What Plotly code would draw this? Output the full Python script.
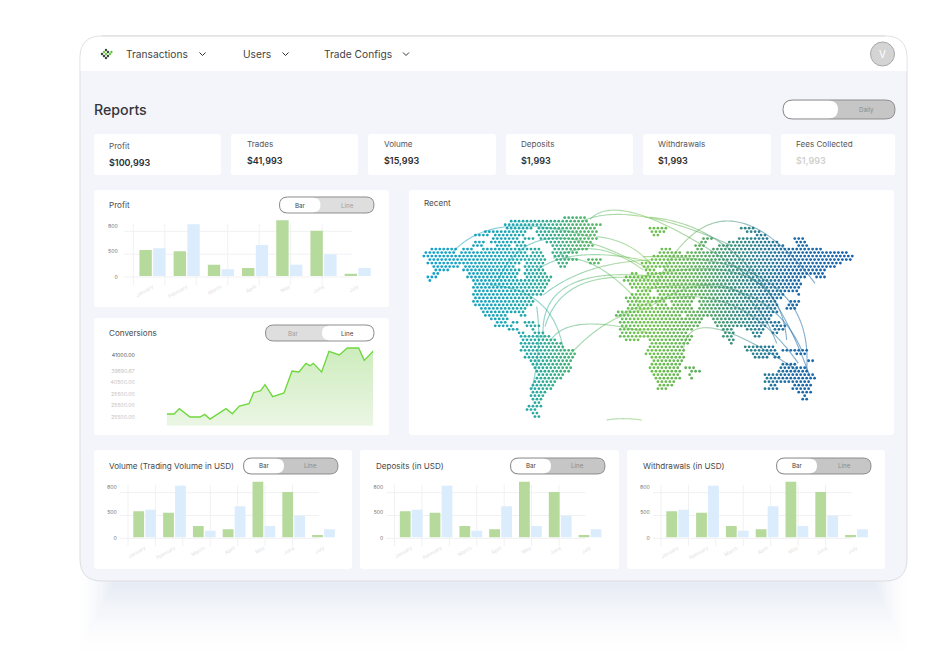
import plotly.graph_objects as go

W, H = 949, 667

# ---------- data ----------
MONTHS = ["January", "February", "March", "April", "May", "June", "July"]
BARS_GREEN = [569, 540, 248, 175, 1219, 993, 51]
BARS_BLUE = [606, 1131, 146, 679, 248, 474, 175]
BAR_TICK_VALUES = [-22, 548, 1095]
BAR_TICK_TEXT = ["0", "500", "800"]
BAR_GRID_Y = [-22, 478, 978]
BAR_GRID_X = [-0.56, 0.36, 1.28, 2.2, 3.12, 4.04, 4.96]

CONV_X = [230, 252, 268, 300, 330, 344, 360, 408, 427, 448, 477, 491, 512, 525, 548, 582, 606, 627, 648, 660, 670, 695, 717, 748, 772, 806, 823, 850]
CONV_Y = [26254, 26254, 27595, 25500, 25500, 26170, 24997, 27595, 26338, 28265, 28852, 31617, 32120, 33629, 30612, 31534, 37064, 36813, 38992, 38405, 38992, 36813, 42009, 41087, 42847, 42847, 39746, 42092]
CONV_TICK_VALUES = [25500, 28433, 31282, 34215, 37064, 41003]
CONV_TICK_TEXT = ["25500.00", "25500.00", "25500.00", "40500.00", "39890.67", "41000.00"]

KPI_NAMES = ["Profit", "Trades", "Volume", "Deposits", "Withdrawals", "Fees Collected"]
KPI_VALUES = ["$100,993", "$41,993", "$15,993", "$1,993", "$1,993", "$1,993"]
NAV_ITEMS = ["Transactions", "Users", "Trade Configs"]

# land dots on the map: one row per dot line, spans of land from west to east
MAP_ROWS = [
    [(465, 520)],
    [(305, 535)],
    [(290, 570)],
    [(295, 365), (385, 550), (715, 770), (995, 1025)],
    [(225, 245), (265, 345), (375, 555), (725, 760), (1015, 1045)],
    [(195, 235), (260, 335), (385, 560), (733, 750), (1040, 1065)],
    [(250, 320), (345, 365), (395, 555), (875, 905), (990, 1070), (1155, 1175)],
    [(190, 220), (245, 345), (415, 545), (870, 890), (960, 1105), (1160, 1180)],
    [(195, 215), (255, 300), (315, 345), (425, 545), (860, 885), (925, 1125), (1170, 1190)],
    [(65, 135), (165, 185), (225, 390), (430, 525), (755, 785), (860, 870), (915, 1170), (1180, 1230)],
    [(45, 135), (150, 350), (365, 395), (430, 505), (745, 805), (835, 1310)],
    [(45, 405), (435, 475), (725, 825), (835, 1325)],
    [(55, 330), (345, 405), (435, 500), (535, 570), (720, 1320)],
    [(55, 145), (155, 325), (345, 395), (440, 475), (545, 570), (700, 1290)],
    [(65, 140), (160, 310), (340, 395), (450, 470), (700, 745), (760, 1275)],
    [(75, 115), (160, 330), (345, 400), (705, 735), (765, 1245)],
    [(65, 80), (175, 320), (345, 410), (660, 680), (710, 745), (755, 1210), (1220, 1240)],
    [(55, 75), (175, 320), (345, 425), (650, 1180), (1215, 1240)],
    [(55, 55), (185, 380), (390, 420), (645, 1170), (1220, 1220)],
    [(190, 410), (660, 1175)],
    [(190, 400), (665, 690), (700, 1170)],
    [(190, 400), (685, 715), (745, 1160)],
    [(190, 395), (660, 675), (690, 715), (745, 1120), (1160, 1170)],
    [(190, 360), (650, 680), (695, 715), (730, 850), (870, 1115)],
    [(195, 375), (655, 680), (695, 715), (730, 765), (780, 850), (870, 1100), (1140, 1170)],
    [(200, 360), (665, 675), (685, 715), (740, 765), (785, 845), (870, 1100), (1135, 1165)],
    [(215, 350), (650, 850), (870, 1095), (1130, 1150)],
    [(225, 340), (620, 875), (885, 1100)],
    [(230, 290), (335, 350), (615, 815), (830, 885), (895, 1080)],
    [(240, 290), (630, 880), (905, 1080)],
    [(255, 285), (305, 325), (345, 375), (630, 870), (920, 1105)],
    [(255, 310), (345, 385), (630, 860), (925, 1065), (1090, 1120)],
    [(295, 320), (365, 375), (630, 840), (935, 970), (1005, 1060), (1090, 1115)],
    [(325, 335), (375, 400), (630, 830), (940, 965), (1030, 1055), (1090, 1105)],
    [(330, 420), (635, 845), (945, 965), (1040, 1050)],
    [(340, 430), (645, 680), (715, 845), (955, 970)],
    [(335, 450), (720, 830), (960, 960)],
    [(335, 465), (720, 820), (1010, 1090)],
    [(335, 490), (710, 820), (1015, 1100), (1120, 1190)],
    [(345, 495), (710, 820), (1025, 1105), (1160, 1190)],
    [(345, 490), (720, 825), (1040, 1075), (1090, 1105)],
    [(360, 480), (725, 820), (1190, 1205)],
    [(370, 480), (720, 805), (850, 850), (1115, 1150)],
    [(370, 480), (715, 805), (830, 850), (1110, 1180)],
    [(375, 480), (725, 805), (840, 865), (1100, 1190)],
    [(380, 465), (730, 800), (835, 845), (1070, 1210)],
    [(375, 450), (740, 805), (840, 840), (1065, 1210)],
    [(370, 440), (745, 790), (1070, 1200)],
    [(365, 430), (750, 790), (1080, 1100), (1150, 1205)],
    [(365, 420), (740, 770), (1070, 1100), (1150, 1200)],
    [(365, 400), (1160, 1200)],
    [(365, 395), (1185, 1190)],
    [(365, 390), (1180, 1195)],
    [(370, 385)],
    [(360, 390)],
    [(355, 380)],
    [(365, 385)],
    [(370, 385)],
]

# flight arcs: start, a point half way along the curve, end
ARC_FROM = [(130, 185), (520, 92), (720, 82), (540, 88), (735, 290), (720, 350), (820, 485), (700, 200),
            (420, 455), (485, 488), (400, 450), (405, 410), (400, 315), (380, 240), (240, 285), (380, 350),
            (265, 270), (560, 140), (430, 205), (460, 205), (590, 690), (620, 380), (700, 300), (700, 260)]
ARC_VIA = [(290, 110), (700, 80), (1000, 215), (720, 85), (950, 93), (950, 290), (910, 415), (1080, 280),
           (520, 403), (600, 395), (470, 290), (510, 285), (540, 240), (520, 195), (390, 340), (385, 470),
           (430, 145), (650, 165), (560, 178), (570, 235), (640, 686), (920, 330), (1000, 310), (1010, 260)]
ARC_TO = [(540, 140), (960, 165), (1200, 560), (1060, 290), (1215, 280), (1100, 460), (1160, 540), (1190, 540),
          (720, 430), (720, 355), (720, 258), (720, 268), (720, 210), (720, 215), (460, 480), (365, 600),
          (720, 240), (720, 220), (700, 240), (690, 340), (695, 690), (1165, 520), (1175, 480), (1130, 450)]

# ---------- pixel helpers ----------
def px(x):
    return x / W

def py(y):
    return 1 - y / H

shapes, notes = [], []

def rr_path(x0, y0, x1, y1, r):
    a = [(x0 + r, y0), (x1 - r, y0), (x1, y0), (x1, y0 + r), (x1, y1 - r), (x1, y1), (x1 - r, y1),
         (x0 + r, y1), (x0, y1), (x0, y1 - r), (x0, y0 + r), (x0, y0), (x0 + r, y0)]
    f = lambda p: f"{px(p[0]):.5f},{py(p[1]):.5f}"
    return (f"M{f(a[0])} L{f(a[1])} Q{f(a[2])} {f(a[3])} L{f(a[4])} Q{f(a[5])} {f(a[6])} "
            f"L{f(a[7])} Q{f(a[8])} {f(a[9])} L{f(a[10])} Q{f(a[11])} {f(a[12])} Z")

def box(x0, y0, x1, y1, r, fill, line=None, lw=1):
    shapes.append(dict(type="path", path=rr_path(x0, y0, x1, y1, r), xref="paper", yref="paper",
                       fillcolor=fill, line=dict(color=line or "rgba(0,0,0,0)", width=lw if line else 0),
                       layer="below"))

def text(x, y, s, size=8.1, color="#4a4a4a", anchor="left", weight=400):
    if anchor == "left":
        x -= 1
    notes.append(dict(x=px(x), y=py(y), xref="paper", yref="paper", text=s, showarrow=False,
                      xanchor=anchor, yanchor="middle", borderpad=0,
                      font=dict(family="Inter", size=size, color=color, weight=weight)))

def hline_path(points, color, width):
    d = "M" + " L".join(f"{px(a):.5f},{py(b):.5f}" for a, b in points)
    shapes.append(dict(type="path", path=d, xref="paper", yref="paper",
                       line=dict(color=color, width=width), layer="below"))

# ---------- page frame ----------
LAYERS = 24
for i in range(LAYERS):
    inset, depth = i * 1.4, 70 - i * 2.8
    t = ((i + 1) / LAYERS) ** 1.6
    col = "rgb(%d,%d,%d)" % (255 - 23 * t, 255 - 19 * t, 255 - 10 * t)
    shapes.append(dict(type="rect", xref="paper", yref="paper", layer="below",
                       x0=px(80 + inset), x1=px(907 - inset), y0=py(575), y1=py(581 + depth),
                       fillcolor=col, line=dict(width=0)))
box(80, 36, 907, 581, 22, "#f4f5fa", "#dcdde0", 1)
# white top bar with rounded upper corners
f = lambda a, b: f"{px(a):.5f},{py(b):.5f}"
shapes.append(dict(type="path", xref="paper", yref="paper", layer="below", fillcolor="#ffffff",
                   line=dict(width=0),
                   path=f"M{f(80.5, 71)} L{f(80.5, 58)} Q{f(80.5, 36.5)} {f(102, 36.5)} L{f(885, 36.5)} "
                        f"Q{f(906.5, 36.5)} {f(906.5, 58)} L{f(906.5, 71)} Z"))
hline_path([(102, 36), (885, 36)], "#dcdde0", 1)

# logo
LOGO = [(-4, 0, "#1c2a1c"), (0, -4, "#1c2a1c"), (0, 4, "#1c2a1c"), (4, 0, "#53c22b"), (-2, -2, "#53c22b"),
        (2, -2, "#1c2a1c"), (-2, 2, "#1c2a1c"), (2, 2, "#1c2a1c"), (0, 0, "#53c22b"), (5.5, -2, "#53c22b")]
for dx, dy, c in LOGO:
    cx, cy = 106 + dx, 54 + dy
    d = f"M{f(cx, cy - 1.4)} L{f(cx + 1.4, cy)} L{f(cx, cy + 1.4)} L{f(cx - 1.4, cy)} Z"
    shapes.append(dict(type="path", path=d, xref="paper", yref="paper", fillcolor=c, line=dict(width=0)))

for name, tx, cx in zip(NAV_ITEMS, [126, 243, 323.5], [202.5, 285.5, 406]):
    text(tx, 54, name, 10.2, "#3f3f46")
    hline_path([(cx - 3, 52.5), (cx, 55.5), (cx + 3, 52.5)], "#333333", 1)

shapes.append(dict(type="circle", xref="paper", yref="paper", x0=px(870.5), x1=px(894.5), y0=py(42), y1=py(66),
                   fillcolor="#d4d4d4", line=dict(color="#a8a8a8", width=1)))
text(882.5, 54, "V", 10, "#ffffff", "center")

text(94, 110, "Reports", 14.2, "#33353a", weight=500)

def toggle(x0, y0, x1, y1, split, white_left, bg, labels):
    box(x0, y0, x1, y1, (y1 - y0) / 2, bg, "#8c8c8c", 1)
    if white_left:
        box(x0 + 0.7, y0 + 0.7, split, y1 - 0.7, (y1 - y0) / 2 - 0.7, "#ffffff")
    else:
        box(split, y0 + 0.7, x1 - 0.7, y1 - 0.7, (y1 - y0) / 2 - 0.7, "#ffffff")
    for lx, s, c in labels:
        text(lx, (y0 + y1) / 2, s, 6.2, c, "center")

toggle(783, 100, 895, 119, 838, True, "#c6c6c6", [(866, "Daily", "#8b8b8b")])

# KPI cards
KPI_BOX = [(94, 221), (231, 358), (368, 496), (506, 633), (643, 771), (781, 895)]
KPI_TX = [109, 246.5, 384, 521, 658, 796]
for i, (x0, x1) in enumerate(KPI_BOX):
    box(x0, 134, x1, 175, 2.5, "#ffffff")
    dy = 2 if i == 0 else 0
    text(KPI_TX[i], 144 + dy, KPI_NAMES[i], 8.1, "#55565b")
    text(KPI_TX[i], 160 + dy, KPI_VALUES[i], 9, "#d0d0d0" if i == 5 else "#2c2d31", weight=600)

# panels
for b in [(94, 190, 389, 307), (94, 318, 389, 435), (409, 190, 894, 435),
          (94, 450, 352, 569), (360, 450, 619, 569), (627, 450, 885, 569)]:
    box(*b, 3, "#ffffff")

text(109, 205, "Profit")
text(109, 333, "Conversions")
text(424, 203, "Recent")
text(109, 466, "Volume (Trading Volume in USD)")
text(376, 466, "Deposits (in USD)")
text(643, 466, "Withdrawals (in USD)")

toggle(279.5, 197, 374, 213, 320.5, True, "#dedede", [(300, "Bar", "#444444"), (347, "Line", "#a0a0a0")])
toggle(265.5, 325, 374, 341, 322, False, "#dedede", [(293.5, "Bar", "#a0a0a0"), (347.5, "Line", "#444444")])
toggle(243.5, 458, 338, 474, 284, True, "#c6c6c6", [(264, "Bar", "#444444"), (310, "Line", "#8b8b8b")])
toggle(510.5, 458, 605, 474, 551, True, "#c6c6c6", [(531, "Bar", "#444444"), (577, "Line", "#8b8b8b")])
toggle(776.5, 458, 871, 474, 817, True, "#c6c6c6", [(797, "Bar", "#444444"), (844, "Line", "#8b8b8b")])

fig = go.Figure()
layout = {}
UNIT = 22.83 / 500

def bar_chart(n, first_centre, step, zero_y, standoff):
    xn, yn = ("x", "y") if n == 1 else (f"x{n}", f"y{n}")
    xa, ya = ("xaxis", "yaxis") if n == 1 else (f"xaxis{n}", f"yaxis{n}")
    lo, hi, ylo, yhi = -0.9, 6.6, -197, 1260
    layout[xa] = dict(domain=[px(first_centre + lo * step), px(first_centre + hi * step)], anchor=yn, type="category",
                      range=[lo, hi], tickangle=-30, ticks="", showgrid=False, zeroline=False, showline=False,
                      tickfont=dict(family="Inter", size=5, color="#e2e2e2"), ticklabelstandoff=-3,
                      tickmode="array", tickvals=MONTHS, ticktext=MONTHS)
    layout[ya] = dict(domain=[py(zero_y - ylo * UNIT), py(zero_y - yhi * UNIT)], anchor=xn, range=[ylo, yhi],
                      tickmode="array", tickvals=BAR_TICK_VALUES, ticktext=BAR_TICK_TEXT, showgrid=False,
                      zeroline=False, showline=False, ticks="", ticklabelstandoff=standoff,
                      tickfont=dict(family="Inter", size=5.2, color="#777777"))
    for v in BAR_GRID_Y:
        shapes.append(dict(type="line", xref=xn, yref=yn, x0=-0.83, x1=5.85, y0=v, y1=v, layer="below",
                           line=dict(color="#f1f1f3", width=1)))
    for v in BAR_GRID_X:
        shapes.append(dict(type="line", xref=xn, yref=yn, x0=v, x1=v, y0=ylo, y1=1150, layer="below",
                           line=dict(color="#f1f1f3", width=1)))
    for vals, c in ((BARS_GREEN, "#b6d99c"), (BARS_BLUE, "#dbecfd")):
        fig.add_trace(go.Bar(x=MONTHS, y=vals, xaxis=xn, yaxis=yn, marker=dict(color=c, line=dict(width=0)),
                             showlegend=False, hoverinfo="skip"))

bar_chart(1, 152.5, 34.2, 276, 3)
bar_chart(3, 144.7, 29.8, 537.3, 0)
bar_chart(4, 144.7 + 266.5, 29.8, 537.3, 0)
bar_chart(5, 144.7 + 533, 29.8, 537.3, 0)

# conversions area
layout["xaxis2"] = dict(domain=[px(166.7), px(373.3)], anchor="y2", range=[230, 850], showgrid=False, zeroline=False,
                        showline=False, showticklabels=False, ticks="")
layout["yaxis2"] = dict(domain=[py(425.7), py(346.3)], anchor="x2", range=[23321, 43282], showgrid=False, zeroline=False,
                        showline=False, ticks="", tickmode="array", tickvals=CONV_TICK_VALUES,
                        ticktext=[f'<span style="color:{"#555555" if i == 5 else "#c4c4c4"}">{t}</span>'
                                  for i, t in enumerate(CONV_TICK_TEXT)],
                        ticklabelstandoff=31, tickfont=dict(family="Inter", size=5.2, color="#c4c4c4"))
fig.add_trace(go.Scatter(x=CONV_X, y=CONV_Y, xaxis="x2", yaxis="y2", mode="lines", fill="tozeroy",
                         line=dict(color="#6fd83e", width=1.4), showlegend=False, hoverinfo="skip",
                         fillgradient=dict(type="vertical", start=43000, stop=23321,
                                           colorscale=[[0, "#cdecbd"], [1, "#ebf6e4"]])))

# map (units are 1/3 pixel, origin at the panel's corner)
GRAD = [(0, (14, 160, 210)), (300, (28, 165, 180)), (400, (45, 171, 154)), (500, (74, 179, 111)),
        (700, (114, 194, 77)), (850, (98, 178, 90)), (950, (62, 148, 120)), (1050, (43, 125, 147)),
        (1150, (26, 106, 168)), (1320, (18, 96, 176))]

def grad(x):
    if x <= GRAD[0][0]:
        return GRAD[0][1]
    for (a, ca), (b, cb) in zip(GRAD, GRAD[1:]):
        if x <= b:
            t = (x - a) / (b - a)
            return tuple(round(p + (q - p) * t) for p, q in zip(ca, cb))
    return GRAD[-1][1]

layout["xaxis6"] = dict(domain=[px(410), px(894)], anchor="y6", range=[0, 1452], visible=False)
layout["yaxis6"] = dict(domain=[py(435), py(190)], anchor="x6", range=[735, 0], visible=False)

STEP_X, STEP_Y, TOP_Y = 11.9, 10.47, 83
mx, my, mc = [], [], []
for i, spans in enumerate(MAP_ROWS):
    off = 0 if i % 2 == 0 else STEP_X / 2
    for a, b in spans:
        k = int((a - 5 - off) // STEP_X) + 1
        while k * STEP_X + off <= b + 5:
            x = k * STEP_X + off
            mx.append(x)
            my.append(TOP_Y + i * STEP_Y)
            mc.append("rgb(%d,%d,%d)" % grad(x))
            k += 1

fig.add_trace(go.Scatter(x=mx, y=my, xaxis="x6", yaxis="y6", mode="markers", showlegend=False, hoverinfo="skip",
                         marker=dict(size=2.8, color=mc, line=dict(width=0))))

# arcs, cut into short pieces coloured by their position
BUCKET = 40
buckets = {}
for s, m, e in zip(ARC_FROM, ARC_VIA, ARC_TO):
    c = (2 * m[0] - (s[0] + e[0]) / 2, 2 * m[1] - (s[1] + e[1]) / 2)
    pts = []
    for j in range(61):
        t = j / 60
        pts.append(((1 - t) ** 2 * s[0] + 2 * t * (1 - t) * c[0] + t * t * e[0],
                    (1 - t) ** 2 * s[1] + 2 * t * (1 - t) * c[1] + t * t * e[1]))
    for p, q in zip(pts, pts[1:]):
        b = int((p[0] + q[0]) / 2 // BUCKET)
        buckets.setdefault(b, ([], []))
        buckets[b][0].extend([p[0], q[0], None])
        buckets[b][1].extend([p[1], q[1], None])
for b, (xs, ys) in sorted(buckets.items()):
    fig.add_trace(go.Scatter(x=xs, y=ys, xaxis="x6", yaxis="y6", mode="lines", showlegend=False, hoverinfo="skip",
                             line=dict(color="rgba(%d,%d,%d,0.55)" % grad(b * BUCKET + BUCKET / 2), width=1.1)))

fig.update_layout(width=W, height=H, margin=dict(l=0, r=0, t=0, b=0), autosize=False,
                  paper_bgcolor="#ffffff", plot_bgcolor="rgba(0,0,0,0)", barmode="group", bargap=0.196,
                  bargroupgap=0.1, shapes=shapes, annotations=notes, showlegend=False, **layout)
fig.write_html("out.html", config={"displayModeBar": False},
               post_script="document.body.style.margin='0';document.documentElement.style.overflow='hidden';")
